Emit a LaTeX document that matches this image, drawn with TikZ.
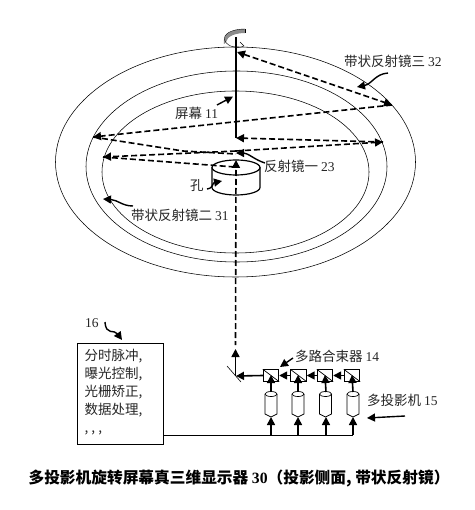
\documentclass[tikz,border=0pt]{standalone}
\usepackage{fontspec}
\usetikzlibrary{arrows.meta,calc}
\setmainfont{Liberation Serif}
\newfontfamily\cjk{Noto Sans CJK SC}
\tikzset{
 ring/.style={draw,line width=0.55pt},
 ray/.style={draw,line width=1.6pt,dash pattern=on 6pt off 3pt},
 rayhead/.style={-{Triangle[length=8pt,width=8pt]}},
 raytwo/.style={{Triangle[length=8pt,width=8pt]}-{Triangle[length=8pt,width=8pt]}},
 beam/.style={draw,line width=1.6pt},
 lbl/.style={inner sep=0pt,anchor=west,font=\cjk\fontsize{13.5}{16}\selectfont,text=black!85},
 pointer/.style={draw,line width=1.4pt,-{Triangle[length=8pt,width=8pt]}},
 combiner/.style={draw,line width=0.9pt,minimum width=15.5pt,minimum height=11.5pt,inner sep=0pt},
 wire/.style={draw,line width=0.9pt},
}
\newcommand{\projector}[2]{%
 \draw[line width=0.7pt] (#1-6,#2-13) -- (#1-6,#2+7) -- (#1,#2+10) -- (#1+6,#2+7) -- (#1+6,#2-13);
 \draw[line width=0.7pt] (#1,#2-13) ellipse (6 and 2.5);
}
\begin{document}
\begin{tikzpicture}[x=1pt,y=-1pt]
\useasboundingbox (0,0) rectangle (474,510);
\fill[white] (0,0) rectangle (474,510);
% rings
\draw[ring] (235.5,162) ellipse (180 and 115);
\draw[ring] (236.5,166.5) ellipse (150.5 and 95.5);
\draw[ring] (235.5,172) ellipse (133.5 and 81);
% rotation sign
\fill[black!45] (224,44) .. controls (222,34) and (232,29) .. (245,29) -- (245,33) .. controls (236,33) and (227,36) .. (226,42) -- cycle;
\draw[line width=0.4pt] (245,29) .. controls (232,29) and (222,34) .. (225,41) .. controls (228,47) and (238,49) .. (244,46) -- (240,42);
\draw[line width=0.4pt] (245,33) -- (245,29);
% screen
\coordinate (top) at (236,37);
\coordinate (scrb) at (236,138);
\draw[line width=1.7pt] (top) -- (scrb);
% rays
\coordinate (m1) at (236,151);
\coordinate (r3r) at (392,105);
\coordinate (r3l) at (93,137);
\coordinate (r2r) at (383,142);
\coordinate (r2l) at (103,157);
\coordinate (scr2) at (237,52);
\path[ray,raytwo] (scr2) -- (r3r);
\path[ray,rayhead] (r3r) -- (r3l);
\path[ray] (r3l) -- (183,151) -- (236,154);
\path[ray,rayhead] (m1) -- (r2r);
\path[ray,rayhead] (r2r) -- (scrb);
\path[ray,rayhead] (m1) -- (r2l);
\path[ray] (r2l) -- (235,167);
% vertical beam
\coordinate (vb) at (235.5,345);
\path[ray] (236,170) -- (vb);
% cylinder
\draw[line width=1.2pt] (212,167.5) -- (212,187.5) arc[start angle=180,end angle=0,x radius=24,y radius=7.5] -- (260,167.5);
\draw[line width=1.2pt] (236,167.5) ellipse (24 and 7.5);
\draw[ray,rayhead] (236,176) -- (236,160);
% labels
\node[lbl] (l32) at (344,61) {带状反射镜三\ {\rmfamily 32}};
\coordinate (p32a) at (388,73);
\coordinate (p32b) at (357,87);
\draw[pointer] (p32a) .. controls (375,74) and (372,84) .. (p32b);
\node[lbl] (l11) at (175,113.5) {屏幕\ {\rmfamily 11}};
\coordinate (p11a) at (217,105);
\coordinate (p11b) at (233,96.5);
\draw[pointer] (p11a) -- (p11b);
\node[lbl] (l23) at (264,166) {反射镜一\ {\rmfamily 23}};
\coordinate (p23a) at (265,163);
\coordinate (p23b) at (236,153);
\draw[pointer] (p23a) .. controls (255,160) and (248,153) .. (p23b);
\node[lbl] (lh) at (190,186) {孔};
\coordinate (pha) at (207,189);
\coordinate (phb) at (222,181);
\draw[pointer] (pha) .. controls (214,188) and (212,183) .. (phb);
\node[lbl] (l31) at (131,215) {带状反射镜二\ {\rmfamily 31}};
\coordinate (p31a) at (133,206);
\coordinate (p31b) at (103,199);
\draw[pointer] (p31a) .. controls (122,206) and (118,200) .. (p31b);
% control box
\node[draw,line width=0.9pt,minimum width=86pt,minimum height=101pt,inner sep=0pt,anchor=north west] (box) at (76.5,343) {};
\node[inner sep=0pt,anchor=north west,align=left,font=\cjk\fontsize{13.5}{18}\selectfont,text=black!85] (txt) at (84.5,349) {分时脉冲,\\曝光控制,\\光栅矫正,\\数据处理,\\, , ,};
\node[lbl,font=\rmfamily\fontsize{13.5}{15}\selectfont] (l16) at (85,323) {16};
\coordinate (p16a) at (105,322);
\coordinate (p16b) at (122,340);
\draw[pointer] (p16a) .. controls (106,336) and (114,329) .. (p16b);
% combiners and projectors
\node[combiner] (c1) at (271,375.5) {};
\node[combiner] (c2) at (298.5,375.5) {};
\node[combiner] (c3) at (325,375.5) {};
\node[combiner] (c4) at (352,375.5) {};
\foreach \n in {c1,c2,c3,c4} \draw[line width=0.7pt] (\n.north west) -- (\n.south east);
\projector{271}{407}
\projector{298}{407}
\projector{325.5}{407}
\projector{353}{407}
\coordinate (f1) at (271,392);\coordinate (f2) at (298,392);\coordinate (f3) at (326,392);\coordinate (f4) at (353,392);
\coordinate (b1) at (271,417);\coordinate (b2) at (298,417);\coordinate (b3) at (326,417);\coordinate (b4) at (353,417);
\coordinate (e1) at (271,435);\coordinate (e2) at (298,435);\coordinate (e3) at (326,435);\coordinate (e4) at (353,435);
\coordinate (t1) at (271,375);\coordinate (t2) at (298,375);\coordinate (t3) at (325,375);\coordinate (t4) at (352,375);
\foreach \i in {1,...,4}{
 \draw[beam,rayhead] (f\i) -- (t\i);
 \draw[beam,rayhead] (e\i) -- (b\i);
}
% mirror
\coordinate (mirror) at (236,376);
\coordinate (up) at (235.5,349);
\draw[line width=0.6pt] (227,366) -- (241,382);
\draw[beam,rayhead] (c1.west) -- (mirror);
\draw[beam,rayhead] (c2.west) -- (c1.east);
\draw[beam,rayhead] (c3.west) -- (c2.east);
\draw[beam,rayhead] (c4.west) -- (c3.east);
\draw[beam,rayhead] (235.5,376) -- (up);
% control wire
\draw[wire] (box.east |- e1) -- (e4);
% labels
\node[lbl] (l14) at (295,356) {多路合束器\ {\rmfamily 14}};
\coordinate (p14a) at (293,358);
\coordinate (p14b) at (280,367);
\draw[pointer] (p14a) -- (p14b);
\node[lbl] (l15) at (367,400) {多投影机\ {\rmfamily 15}};
\coordinate (p15a) at (405,416);
\coordinate (p15b) at (367,418);
\draw[pointer] (p15a) -- (p15b);
% title
\node[inner sep=0pt,font=\cjk\bfseries\fontsize{15.7}{18}\selectfont] (title) at (239,478) {多投影机旋转屏幕真三维显示器 {\rmfamily\bfseries 30}（投影侧面, 带状反射镜）};
\end{tikzpicture}
\end{document}
